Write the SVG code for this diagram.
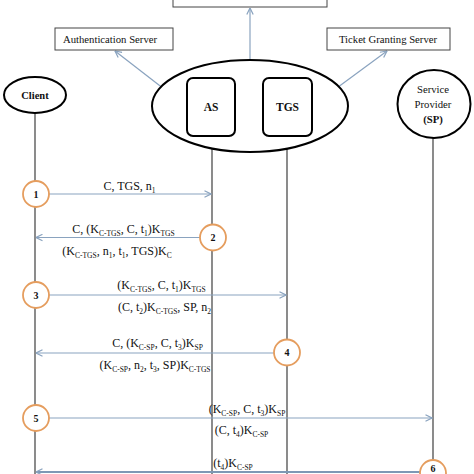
<svg xmlns="http://www.w3.org/2000/svg" width="474" height="474" viewBox="0 0 474 474">
<style>
text{font-family:"Liberation Serif","Times New Roman",serif;fill:#111}
.lbl{font-size:12px;text-anchor:middle}
.box{fill:#fff;stroke:#444;stroke-width:1}
.boxt{font-size:10.7px;text-anchor:middle}
.node{fill:#fff;stroke:#000;stroke-width:2}
.bold{font-weight:bold;text-anchor:middle}
.life{stroke:#6f6f6f;stroke-width:1.6;fill:none}
.msg{stroke:#8aa3bf;stroke-width:1.2;fill:none;marker-end:url(#arr)}
.link{stroke:#8aa3bf;stroke-width:1.2;fill:none;marker-end:url(#arr)}
.step{fill:#fff;stroke:#e59d5e;stroke-width:1.8}
.stept{font-size:10px;font-weight:bold;text-anchor:middle}
.s{font-size:7.5px;baseline-shift:-2.5px}
</style>
<defs>
<marker id="arr" markerUnits="userSpaceOnUse" viewBox="0 0 8 8" markerWidth="8" markerHeight="8" refX="7.5" refY="4" orient="auto">
<path d="M1,0.8 L7.5,4 L1,7.2" fill="none" stroke="#8aa3bf" stroke-width="1.2"/>
</marker>
</defs>
<rect width="474" height="474" fill="#fff"/>

<g id="lifelines">
<line class="life" x1="35" y1="113" x2="35" y2="474"/>
<line class="life" x1="212" y1="136" x2="212" y2="474"/>
<line class="life" x1="287" y1="136" x2="287" y2="474"/>
<line class="life" x1="433" y1="138" x2="433" y2="474"/>
</g>

<g id="connectors">
<line class="link" x1="250" y1="60" x2="250" y2="8"/>
<line class="link" x1="186" y1="106" x2="115" y2="51"/>
<line class="link" x1="311" y1="107" x2="387" y2="51"/>
<line class="msg" x1="49" y1="194" x2="211" y2="194"/>
<line class="msg" x1="200" y1="237.5" x2="36" y2="237.5"/>
<line class="msg" x1="49" y1="295" x2="286" y2="295"/>
<line class="msg" x1="274" y1="353" x2="36" y2="353"/>
<line class="msg" x1="49" y1="418" x2="432" y2="418"/>
<line class="msg" x1="420" y1="472" x2="36" y2="472" style="stroke-width:2;stroke:#7d98b5"/>
</g>

<g id="top-box"><rect class="box" x="173" y="-20" width="154" height="27"/></g>
<g id="auth-box"><rect class="box" x="55" y="28" width="118" height="22"/><text class="boxt" x="110" y="43">Authentication Server</text></g>
<g id="tgs-box"><rect class="box" x="327" y="28" width="123" height="22"/><text class="boxt" x="388" y="43">Ticket Granting Server</text></g>

<g id="kdc"><ellipse class="node" cx="250" cy="106" rx="98" ry="46"/></g>
<g id="as"><rect class="node" x="187" y="78" width="48" height="58" rx="6"/><text class="bold" x="211" y="111" font-size="11.5">AS</text></g>
<g id="tgs"><rect class="node" x="263" y="78" width="49" height="58" rx="6"/><text class="bold" x="287.5" y="111" font-size="11.5">TGS</text></g>
<g id="client"><ellipse class="node" cx="35" cy="95" rx="31" ry="18"/><text class="bold" x="35" y="98.5" font-size="10.5">Client</text></g>
<g id="sp"><ellipse class="node" cx="434" cy="104" rx="36.5" ry="34"/>
<text x="433" y="93" font-size="10.7" text-anchor="middle">Service</text>
<text x="433" y="108" font-size="10.7" text-anchor="middle">Provider</text>
<text class="bold" x="433" y="122.5" font-size="10.7">(SP)</text></g>

<g id="step1"><circle class="step" cx="36" cy="194" r="13"/><text class="stept" x="36" y="197.5">1</text></g>
<g id="step2"><circle class="step" cx="213" cy="237.5" r="13"/><text class="stept" x="213" y="241">2</text></g>
<g id="step3"><circle class="step" cx="36" cy="295" r="13"/><text class="stept" x="36" y="298.5">3</text></g>
<g id="step4"><circle class="step" cx="287" cy="352.5" r="13"/><text class="stept" x="287" y="356">4</text></g>
<g id="step5"><circle class="step" cx="36" cy="418" r="13"/><text class="stept" x="36" y="421.5">5</text></g>
<g id="step6"><circle class="step" cx="433" cy="473" r="13"/><text class="stept" x="433" y="471.5" font-size="9">6</text></g>

<g id="labels">
<text class="lbl" x="129.5" y="190">C, TGS, n<tspan class="s">1</tspan></text>
<text class="lbl" x="123.5" y="233">C, (K<tspan class="s">C-TGS</tspan>, C, t<tspan class="s">1</tspan>)K<tspan class="s">TGS</tspan></text>
<text class="lbl" x="117" y="255">(K<tspan class="s">C-TGS</tspan>, n<tspan class="s">1</tspan>, t<tspan class="s">1</tspan>, TGS)K<tspan class="s">C</tspan></text>
<text class="lbl" x="161.5" y="289">(K<tspan class="s">C-TGS</tspan>, C, t<tspan class="s">1</tspan>)K<tspan class="s">TGS</tspan></text>
<text class="lbl" x="164.5" y="310.5">(C, t<tspan class="s">2</tspan>)K<tspan class="s">C-TGS</tspan>, SP, n<tspan class="s">2</tspan></text>
<text class="lbl" x="157.5" y="347">C, (K<tspan class="s">C-SP</tspan>, C, t<tspan class="s">3</tspan>)K<tspan class="s">SP</tspan></text>
<text class="lbl" x="155" y="369">(K<tspan class="s">C-SP</tspan>, n<tspan class="s">2</tspan>, t<tspan class="s">3</tspan>, SP)K<tspan class="s">C-TGS</tspan></text>
<text class="lbl" x="247" y="413">(K<tspan class="s">C-SP</tspan>, C, t<tspan class="s">3</tspan>)K<tspan class="s">SP</tspan></text>
<text class="lbl" x="241.5" y="434">(C, t<tspan class="s">4</tspan>)K<tspan class="s">C-SP</tspan></text>
<text class="lbl" x="233" y="466.5">(t<tspan class="s">4</tspan>)K<tspan class="s">C-SP</tspan></text>
</g>
</svg>
